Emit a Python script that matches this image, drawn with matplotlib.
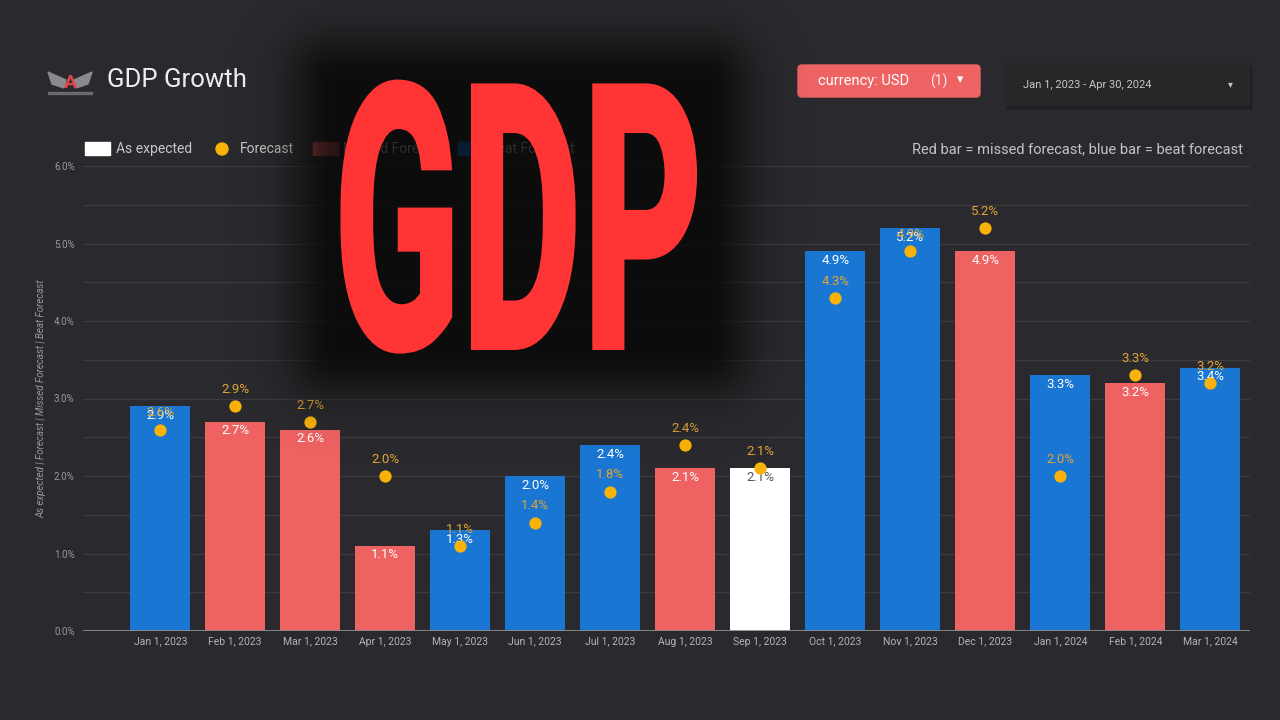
import numpy as np
import matplotlib
matplotlib.use("Agg")
import matplotlib.pyplot as plt
from matplotlib.patches import Rectangle, FancyBboxPatch, Circle, Polygon
from matplotlib.patheffects import AbstractPathEffect
from matplotlib.transforms import Affine2D

# ---------------- data ----------------
months = ["Jan 1, 2023", "Feb 1, 2023", "Mar 1, 2023", "Apr 1, 2023", "May 1, 2023",
          "Jun 1, 2023", "Jul 1, 2023", "Aug 1, 2023", "Sep 1, 2023", "Oct 1, 2023",
          "Nov 1, 2023", "Dec 1, 2023", "Jan 1, 2024", "Feb 1, 2024", "Mar 1, 2024"]
actual = [2.9, 2.7, 2.6, 1.1, 1.3, 2.0, 2.4, 2.1, 2.1, 4.9, 5.2, 4.9, 3.3, 3.2, 3.4]
forecast = [2.6, 2.9, 2.7, 2.0, 1.1, 1.4, 1.8, 2.4, 2.1, 4.3, 4.9, 5.2, 2.0, 3.3, 3.2]
y_ticks = [0, 1, 2, 3, 4, 5, 6]
y_tick_labels = ["0.0%", "1.0%", "2.0%", "3.0%", "4.0%", "5.0%", "6.0%"]
legend_labels = ["As expected", "Forecast", "Missed Forecast", "Beat Forecast"]

# ---------------- style ----------------
W, H = 1280, 720
BG = "#2a2a2e"
BLUE = "#1976d2"
RED = "#ef6262"
WHITE = "#ffffff"
GOLD = "#f9b208"
GOLD_TXT = "#e2a534"
GRID = "#3c3c40"
FONT = ["Roboto", "DejaVu Sans"]
plt.rcParams["font.family"] = FONT


class HScale(AbstractPathEffect):
    """Condense text horizontally around an anchor point (display coords)."""
    def __init__(self, sx, sy, x0, y0):
        super().__init__()
        self.t = Affine2D().translate(-x0, -y0).scale(sx, sy).translate(x0, y0)

    def draw_path(self, renderer, gc, tpath, affine, rgbFace=None):
        renderer.draw_path(gc, tpath, affine + self.t, rgbFace)


fig = plt.figure(figsize=(W / 100, H / 100), dpi=100, facecolor=BG)

# ---------------- main chart ----------------
ax = fig.add_axes([83 / W, 1 - 631 / H, (1250 - 83) / W, (631 - 166) / H])
ax.set_facecolor(BG)
x = np.arange(len(months))
colors = [BLUE if a > f else (RED if a < f else WHITE) for a, f in zip(actual, forecast)]
ax.bar(x, actual, width=0.8, color=colors, zorder=2)

ax.set_xlim(-1.03, len(months) - 0.47)
ax.set_ylim(0, 6)
ax.set_yticks(y_ticks, y_tick_labels)
ax.set_yticks(np.arange(0.5, 6, 1.0), minor=True)
ax.yaxis.grid(True, which="both", color=GRID, lw=0.9, zorder=0)
ax.set_axisbelow(True)
ax.axhline(0, color="#8c8c8c", lw=1.3, zorder=3)
for s in ax.spines.values():
    s.set_visible(False)
ax.tick_params(axis="y", which="both", length=0, pad=6, labelsize=7, labelcolor="#9a9a9a")
ax.set_xticks(x, months)
ax.tick_params(axis="x", length=0, pad=4, labelsize=7.5, labelcolor="#b4b4b4")
ax.set_ylabel("As expected | Forecast | Missed Forecast | Beat Forecast",
              fontsize=7, color="#9a9a9a", style="italic")
ax.yaxis.set_label_coords(-0.031, 0.5)

# bar value labels
for i, (v, c) in enumerate(zip(actual, colors)):
    ax.annotate(f"{v:.1f}%", (i, v), xytext=(0, -6.6), textcoords="offset points",
                ha="center", va="center", fontsize=9.5,
                color="#555555" if c == WHITE else "#ffffff", zorder=5)

# forecast dots + labels
ax.scatter(x, forecast, s=78, color=GOLD, zorder=6, linewidths=0)
for i, f in enumerate(forecast):
    ax.annotate(f"{f:.1f}%", (i, f), xytext=(0, 12), textcoords="offset points",
                ha="center", va="center", fontsize=9.5, color=GOLD_TXT, zorder=7,
                arrowprops=dict(arrowstyle="-", color=GOLD_TXT, lw=0.7,
                                shrinkA=5, shrinkB=4))

# ---------------- overlay (pixel coordinates) ----------------
ov = fig.add_axes([0, 0, 1, 1], zorder=10)
ov.patch.set_visible(False)
ov.axis("off")

# legend row (sits under the shadow)
ov.add_patch(Rectangle((85, 142), 25, 13, color=WHITE, zorder=1))
ov.text(116, 149, legend_labels[0], fontsize=10, color="#c8c8c8", va="center", zorder=1)
ov.add_patch(Circle((222, 149), 6, color=GOLD, zorder=1))
ov.text(240, 149, legend_labels[1], fontsize=10, color="#c8c8c8", va="center", zorder=1)
ov.add_patch(Rectangle((313, 142), 25, 13, color="#c05050", zorder=1))
ov.text(343, 149, legend_labels[2], fontsize=10, color="#c8c8c8", va="center", zorder=1)
ov.add_patch(Rectangle((458, 142), 25, 13, color=BLUE, zorder=1))
ov.text(489, 149, legend_labels[3], fontsize=10, color="#c8c8c8", va="center", zorder=1)

ov.text(1243, 149, "Red bar = missed forecast, blue bar = beat forecast",
        fontsize=10.5, color="#c4c4c4", ha="right", va="center", zorder=1)

# title and logo
ov.text(107, 80, "GDP Growth", fontsize=18.5, color="#eeeeee", va="center", zorder=1)
ov.add_patch(Polygon([[48, 72], [66, 80], [64, 88], [52, 84]], color="#8a8a8e", zorder=1))
ov.add_patch(Polygon([[92, 72], [74, 80], [76, 88], [88, 84]], color="#8a8a8e", zorder=1))
ov.text(70, 83, "A", fontsize=14, fontweight="bold", color="#e04446", ha="center",
        va="center", zorder=1)
ov.add_patch(Rectangle((48, 92), 44, 1.5, color="#6a6a6e", zorder=1))

# currency button
ov.add_patch(FancyBboxPatch((798, 65), 182, 32, boxstyle="round,pad=0,rounding_size=4",
                            color="#ee6363", zorder=1))
ov.text(818, 81, "currency: USD", fontsize=10.5, color="#ffffff", va="center", zorder=2)
ov.text(930, 81, "(1)", fontsize=10, color="#ffe8e8", va="center", zorder=2)
ov.text(957, 80, "\u25be", fontsize=9, color="#ffffff", va="center", zorder=2,
        family=["DejaVu Sans"])

# date range picker
ov.add_patch(Rectangle((1006, 66), 245, 42, color="#1f1f22", zorder=1))
ov.add_patch(Rectangle((1004, 63), 245, 42, color="#27272a", zorder=1))
ov.text(1023, 85, "Jan 1, 2023 - Apr 30, 2024", fontsize=8, color="#c8c8c8",
        va="center", zorder=2)
ov.text(1228, 84, "\u25be", fontsize=7, color="#c8c8c8", va="center", zorder=2,
        family=["DejaVu Sans"])

# dark shadow behind big headline
yy, xx = np.mgrid[0:H, 0:W]
dx = np.maximum(np.maximum(335 - xx, 0), xx - 705)
dy = np.maximum(np.maximum(80 - yy, 0), yy - 350)
d = np.hypot(dx, dy)
alpha = 0.8 * np.exp(-(d ** 2) / (2 * 33.0 ** 2))
rgba = np.zeros((H, W, 4))
rgba[..., 0:3] = 0.02
rgba[..., 3] = alpha
ov.imshow(rgba, extent=(0, W, H, 0), aspect="auto", zorder=3, interpolation="bilinear")

# big headline
ov.text(333, 350, "GDP", fontsize=270, fontweight="black", color="#ff3434",
        ha="left", va="baseline", zorder=5,
        path_effects=[HScale(0.5, 1.0, 333, H - 350)])

ov.set_xlim(0, W)
ov.set_ylim(H, 0)

fig.savefig("out.png", dpi=100, facecolor=BG)
